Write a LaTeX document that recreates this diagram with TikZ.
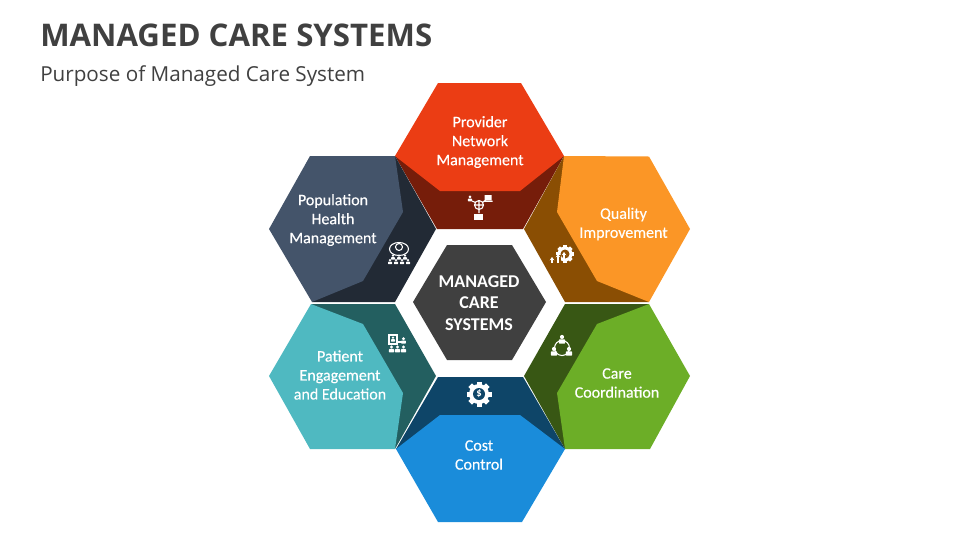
\documentclass[tikz,border=0pt]{standalone}
\usepackage{fontspec}
\setmainfont{Carlito}
\newfontfamily\titlefont{Open Sans}
\newfontfamily\hexfont[FakeBold=0.35]{Carlito}
\usetikzlibrary{arrows.meta,positioning}
\definecolor{redtop}{HTML}{EB3D14}
\definecolor{reddark}{HTML}{761D0A}
\definecolor{slatetop}{HTML}{44546A}
\definecolor{slatedark}{HTML}{222A35}
\definecolor{orangetop}{HTML}{FB9626}
\definecolor{orangedark}{HTML}{8A4E03}
\definecolor{tealtop}{HTML}{4FB9C1}
\definecolor{tealdark}{HTML}{235F60}
\definecolor{greentop}{HTML}{6CAE27}
\definecolor{greendark}{HTML}{385714}
\definecolor{bluetop}{HTML}{1A8CDA}
\definecolor{bluedark}{HTML}{0E4568}
\definecolor{centerfill}{HTML}{404040}
\definecolor{inkgray}{HTML}{404040}
\tikzset{
    hexlabel/.style={text=white, align=center, font=\hexfont\fontsize{12}{14.25}\selectfont},
    centerlabel/.style={text=white, align=center, font=\fontsize{13.5}{16}\selectfont\bfseries},
    iconline/.style={draw=white, line width=0.8pt},
    person/.pic={
        \fill[white] (0,-1.9) circle (1.3);
        \fill[white, rounded corners=0.5pt] (-2,2.2) rectangle (2,-0.4);
    },
    gear/.pic={
        \foreach \a in {0,45,...,315}
            \fill[white, rotate=\a] (-0.2,-1) rectangle (0.2,0);
    }
}

\begin{document}
\begin{tikzpicture}[x=0.75pt, y=-0.75pt]
    \useasboundingbox (0,0) rectangle (960,540);

    \node[anchor=west, inner sep=0pt, text=inkgray, font=\titlefont\fontsize{23.4}{28}\selectfont\bfseries] (title) at (40,35) {MANAGED CARE SYSTEMS};
    \node[anchor=west, inner sep=0pt, text=inkgray, font=\titlefont\fontsize{15.5}{19}\selectfont] (subtitle) at (40,76) {Purpose of Managed Care System};

    % dark backs
    \fill[reddark] (395,156) -- (437,229) -- (523,229) -- (564,156) -- cycle;
    \fill[slatedark] (395,156) -- (436,229) -- (395,302) -- (312,302) -- cycle;
    \fill[orangedark] (564,156) -- (524,229) -- (565,302) -- (649,302) -- cycle;
    \fill[tealdark] (311,304) -- (395,304) -- (436,376) -- (395,449) -- cycle;
    \fill[greendark] (649,304) -- (565,304) -- (524,376) -- (565,449) -- cycle;
    \fill[bluedark] (396,449) -- (438,377) -- (523,377) -- (565,449) -- cycle;

    % bright fronts
    \fill[redtop] (438,83) -- (521,83) -- (564,156) -- (520,191) -- (440,191) -- (395,156) -- cycle;
    \fill[slatetop] (310,156) -- (395,156) -- (403,212) -- (363,281) -- (312,302) -- (269,229) -- cycle;
    \fill[orangetop] (564,156) -- (649,156.5) -- (690,229) -- (649,302) -- (597,281) -- (557,212) -- cycle;
    \fill[tealtop] (311,304) -- (363,324) -- (403,393) -- (395,449) -- (310,449) -- (269,376) -- cycle;
    \fill[greentop] (649,304) -- (690,376) -- (650,449) -- (565,449) -- (557,393) -- (597,324) -- cycle;
    \fill[bluetop] (396,449) -- (440,415) -- (520,415) -- (565,449) -- (522,522) -- (438,522) -- cycle;
    \fill[centerfill] (447,245) -- (512,245) -- (546,302) -- (512,360) -- (447,360) -- (413,302) -- cycle;

    \node[hexlabel] (provider) at (480,142) {Provider\\Network\\Management};
    \node[hexlabel] (population) at (333,220) {Population\\Health\\Management};
    \node[hexlabel] (quality) at (623.5,224) {Quality\\Improvement};
    \node[hexlabel] (patient) at (340,375) {Patient\\Engagement\\and Education};
    \node[hexlabel] (care) at (617,383) {Care\\Coordination};
    \node[hexlabel] (cost) at (479,455) {Cost\\Control};
    \node[centerlabel] (hub) at (479,303) {MANAGED\\CARE\\SYSTEMS};

    % provider icon
    \draw[iconline] (479,205) circle (4.5) (474.5,205) -- (483.5,205) (479,200.5) -- (479,209.5);
    \draw[iconline] (472,201) -- (475.5,202.5) (486,200) -- (482.5,202.5) (479,209.5) -- (479,213);
    \pic[scale=1.1] at (470,199) {person};
    \fill[white] (484.5,195) rectangle (491.5,200) (483.5,200.6) rectangle (492.5,201.8);
    \fill[white] (473.5,213.5) rectangle (483,219.5);

    % population icon
    \draw[iconline] (399,249) ellipse (9.5 and 6.5);
    \draw[iconline] (399,247) circle (3.5);
    \foreach \x in {393,399,405}
        \pic[scale=1] at (\x,257.5) {person};
    \foreach \x in {390,396,402,408}
        \pic[scale=1] at (\x,262) {person};

    % quality icon
    \pic[scale=9] at (565,254) {gear};
    \fill[white] (565,254) circle (7.5);
    \fill[orangedark] (565,254) circle (4.5);
    \fill[orangedark] (550,255) rectangle (561,265);
    \foreach \x/\y in {552/257, 558/254, 564/252}
        \draw[white, line width=1pt, -{Stealth[length=2.5pt,width=3.5pt]}] (\x,263) -- (\x,\y);

    % patient icon
    \draw[iconline] (389,335) rectangle (397,344);
    \pic[scale=1] at (393,339.5) {person};
    \draw[iconline] (397,342) -- (400.5,342);
    \pic[scale=1.2] at (403.5,341) {person};
    \foreach \x in {391.5,397.5,403.5}
        \pic[scale=1.3] at (\x,349.5) {person};

    % care icon
    \draw[iconline] (562,348) circle (7.5);
    \foreach \x/\y in {562/340, 554/352, 569/352}
        \pic[scale=1.6] at (\x,\y) {person};

    % cost icon
    \pic[scale=12.5] at (479,394) {gear};
    \fill[white] (479,394) circle (10);
    \fill[bluedark] (479,394) circle (6);
    \node[text=white, inner sep=0pt, font=\fontsize{8}{9}\selectfont\bfseries] (dollar) at (479,394) {\$};
\end{tikzpicture}
\end{document}
